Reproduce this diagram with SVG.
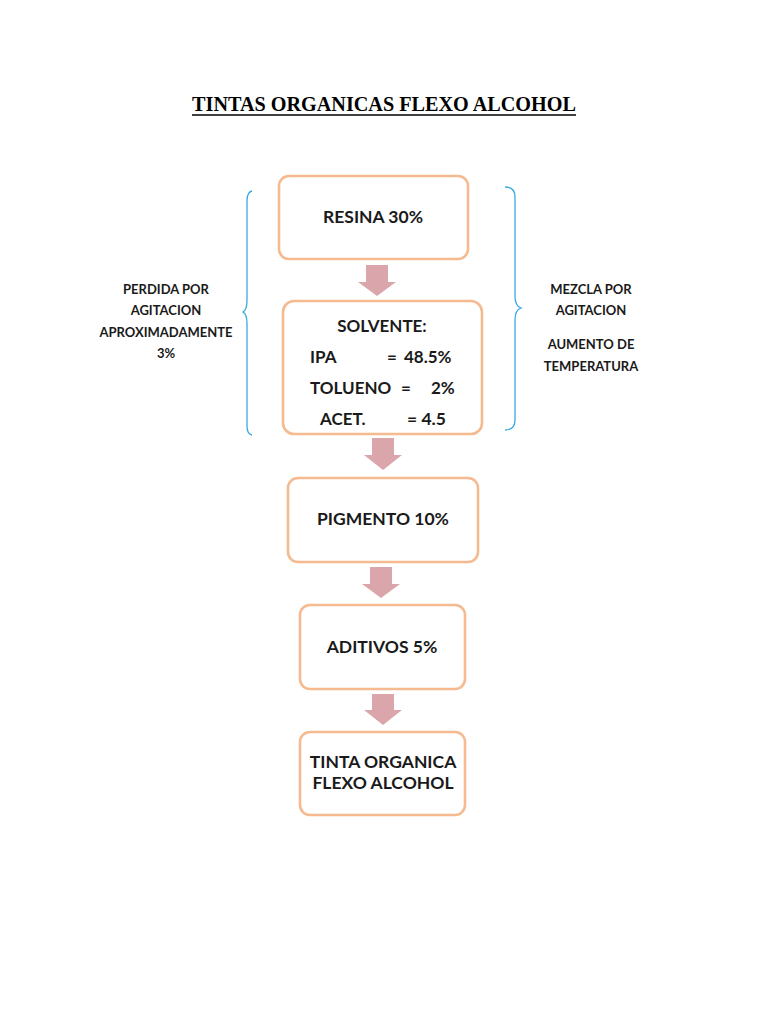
<svg xmlns="http://www.w3.org/2000/svg" width="768" height="1024" viewBox="0 0 768 1024">
<style>
.box{fill:#ffffff;stroke:#F5BA8F;stroke-width:2.6}
.t{font-family:Lato,"Open Sans","Liberation Sans",sans-serif;font-weight:bold;fill:#1a1a1a;font-size:17.5px}
.v{font-size:17px}
.s{font-family:Lato,"Open Sans","Liberation Sans",sans-serif;font-weight:bold;fill:#1a1a1a;font-size:13px;text-anchor:middle}
.arr{fill:#DBA6AB}
.br{fill:none;stroke:#35ABE0;stroke-width:1.3}
</style>
<rect width="768" height="1024" fill="#ffffff"/>
<g id="title">
<text x="384" y="111" text-anchor="middle" font-family="'Liberation Serif','Times New Roman',serif" font-weight="bold" font-size="20.2" fill="#000">TINTAS ORGANICAS FLEXO ALCOHOL</text>
<line x1="192" y1="115" x2="576" y2="115" stroke="#000" stroke-width="1.3"/>
</g>
<g id="resina">
<rect class="box" x="279" y="176" width="189" height="83" rx="10"/>
<text class="t" x="373" y="223" text-anchor="middle">RESINA 30%</text>
</g>
<g id="solvente">
<rect class="box" x="283" y="301" width="199" height="133" rx="11"/>
<text class="t v" x="382" y="332" text-anchor="middle">SOLVENTE:</text>
<text class="t v" x="310" y="363">IPA</text>
<text class="t v" x="387" y="363">=</text>
<text class="t v" x="404" y="363">48.5%</text>
<text class="t v" x="310" y="394">TOLUENO</text>
<text class="t v" x="401" y="394">=</text>
<text class="t v" x="431" y="394">2%</text>
<text class="t v" x="320" y="425">ACET.</text>
<text class="t" x="407" y="425" font-size="12.5">=  4.5</text>
</g>
<g id="pigmento">
<rect class="box" x="288" y="478" width="190" height="84" rx="10"/>
<text class="t" x="383" y="525" text-anchor="middle">PIGMENTO 10%</text>
</g>
<g id="aditivos">
<rect class="box" x="300" y="605" width="165" height="84" rx="10"/>
<text class="t" x="382" y="653" text-anchor="middle">ADITIVOS 5%</text>
</g>
<g id="tinta">
<rect class="box" x="300" y="732" width="165" height="83" rx="10"/>
<text class="t" x="383" y="768" text-anchor="middle" font-size="16.8">TINTA ORGANICA</text>
<text class="t" x="383" y="789" text-anchor="middle" font-size="16.8">FLEXO ALCOHOL</text>
</g>
<g id="perdida">
<text class="s" x="166" y="294">PERDIDA POR</text>
<text class="s" x="166" y="315">AGITACION</text>
<text class="s" x="166" y="337">APROXIMADAMENTE</text>
<text class="s" x="166" y="358" font-weight="normal">3%</text>
</g>
<g id="mezcla">
<text class="s" x="591" y="294">MEZCLA POR</text>
<text class="s" x="591" y="315">AGITACION</text>
<text class="s" x="591" y="349">AUMENTO DE</text>
<text class="s" x="591" y="371">TEMPERATURA</text>
</g>
<g id="connectors">
<path class="arr" d="M366,265 H388 V282 H396 L377,296 L358,282 H366 Z"/>
<path class="arr" d="M372,438 H394 V455 H402 L383,470 L364,455 H372 Z"/>
<path class="arr" d="M370,567 H392 V584 H400 L381,598 L362,584 H370 Z"/>
<path class="arr" d="M372,694 H394 V710 H402 L383,725 L364,710 H372 Z"/>
<path class="br" d="M252,191 Q247,192 247,201 L247,300 Q247,310 243,312 Q247,314 247,324 L247,426 Q247,434 252,435"/>
<path class="br" d="M505,187 Q515,187 515,197 L515,296 Q515,306 521,308 Q515,310 515,320 L515,420 Q515,430 505,430"/>
</g>
</svg>
